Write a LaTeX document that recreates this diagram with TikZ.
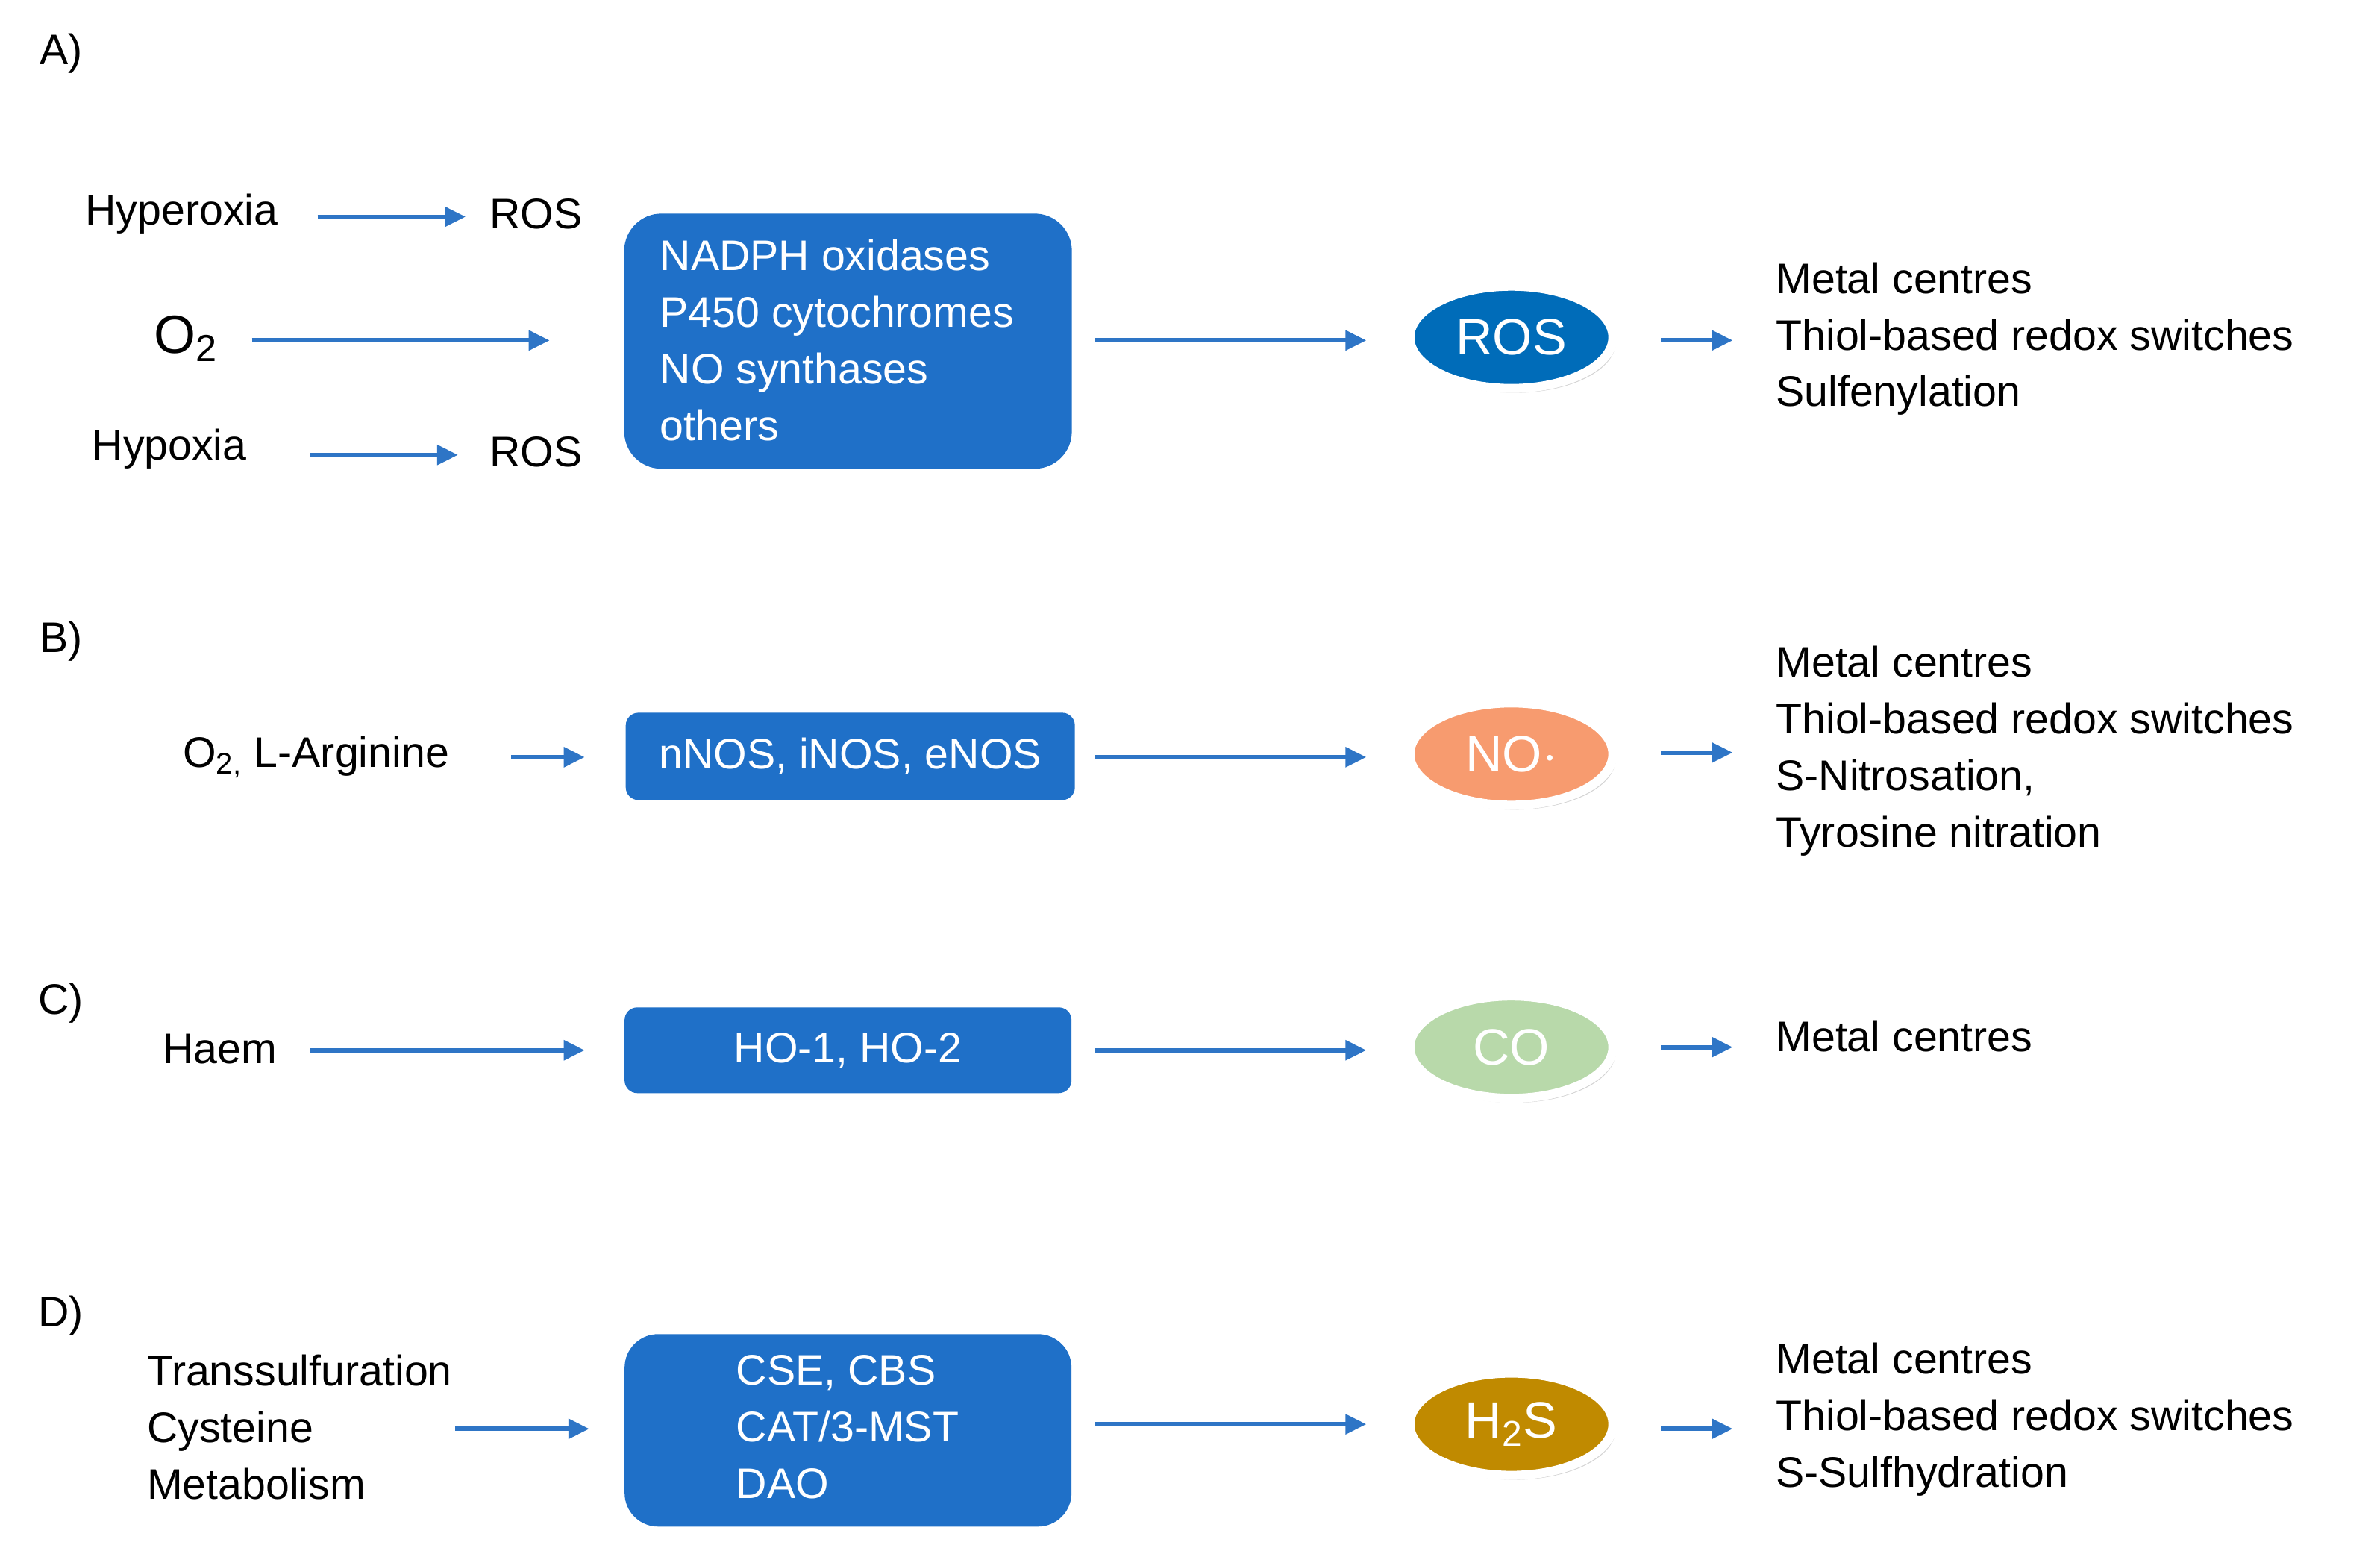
\documentclass[tikz,border=0pt]{standalone}
\usepackage{fontspec}
\setmainfont{Liberation Sans}
\usetikzlibrary{arrows.meta,shadows}
\definecolor{boxblue}{RGB}{31,112,200}
\definecolor{arrblue}{RGB}{46,117,198}
\definecolor{rosblue}{RGB}{0,108,185}
\definecolor{noorange}{RGB}{247,155,111}
\definecolor{cogreen}{RGB}{184,217,170}
\definecolor{hsgold}{RGB}{192,138,0}
\begin{document}
\begin{tikzpicture}[x=0.02046cm,y=-0.02046cm]
\tikzstyle{txt} = [inner sep=0pt,font=\fontsize{16.3}{21.6}\selectfont,align=left]
\tikzstyle{panel} = [inner sep=0pt,font=\fontsize{16.3}{20}\selectfont]
\tikzstyle{enz} = [fill=boxblue,text=white,inner sep=0pt,font=\fontsize{16.3}{21.6}\selectfont]
\tikzstyle{gas} = [ellipse,fill=#1,draw=white,line width=0.12cm,minimum width=2.72cm,minimum height=1.37cm,
  inner sep=0pt,text=white,font=\fontsize{19.5}{20}\selectfont,drop shadow={opacity=0.35,shadow xshift=0.04cm,shadow yshift=-0.06cm}]
\tikzstyle{arr} = [draw=arrblue,line width=1.7pt,-{Triangle[length=0.28cm,width=0.26cm]}]
\usetikzlibrary{shapes.geometric}
\useasboundingbox (0,0) rectangle (1559,1015.6);

% panel labels
\node[panel] (la) at (40,35) {A)};
\node[panel] (lb) at (40,420) {B)};
\node[panel] (lc) at (40,657) {C)};
\node[panel] (ld) at (40,862) {D)};

% A) ROS
\node[txt] (hyper) at (119,140) {Hyperoxia};
\node[txt] (rosa) at (351,140) {ROS};
\node[txt,font=\fontsize{20.5}{22}\selectfont] (o2) at (122,222) {O\textsubscript{2}};
\node[txt] (hypo) at (111,294) {Hypoxia};
\node[txt] (rosb) at (351,296) {ROS};
\node[enz,rounded corners=0.5cm,minimum width=6cm,minimum height=3.42cm] (boxa) at (555.5,223.5) {};
\node[txt,text=white,anchor=west] (enza) at (432,223) {NADPH oxidases\\P450 cytochromes\\NO synthases\\others};
\node[gas=rosblue] (ros) at (990,221) {ROS};
\node[txt,anchor=west] (tgta) at (1163,222) {Metal centres\\Thiol-based redox switches\\Sulfenylation};
\coordinate (a1s) at (208,142); \coordinate (a1e) at (305,142);
\coordinate (a2s) at (165,223); \coordinate (a2e) at (360,223);
\coordinate (a3s) at (203,298); \coordinate (a3e) at (300,298);
\draw[arr] (a1s) -- (a1e);
\draw[arr] (a2s) -- (a2e);
\draw[arr] (a3s) -- (a3e);
\draw[arr] (717,223) -- (895,223);
\draw[arr] (1088,223) -- (1135,223);

% B) NO
\node[txt] (arg) at (207,496) {O\textsubscript{2,} L-Arginine};
\node[enz,rounded corners=0.17cm,minimum width=6.02cm,minimum height=1.17cm] (boxb) at (557,495.5) {nNOS, iNOS, eNOS};
\node[gas=noorange] (no) at (990,494) {NO$\cdot$};
\node[txt,anchor=west] (tgtb) at (1163,492) {Metal centres\\Thiol-based redox switches\\S-Nitrosation,\\Tyrosine nitration};
\draw[arr] (335,496) -- (383,496);
\draw[arr] (717,496) -- (895,496);
\draw[arr] (1088,493) -- (1135,493);

% C) CO
\node[txt] (haem) at (144,687) {Haem};
\node[enz,rounded corners=0.17cm,minimum width=5.99cm,minimum height=1.15cm] (boxc) at (555.5,688) {HO-1, HO-2};
\node[gas=cogreen] (co) at (990,686) {CO};
\node[txt,anchor=west] (tgtc) at (1163,679) {Metal centres};
\draw[arr] (203,688) -- (383,688);
\draw[arr] (717,688) -- (895,688);
\draw[arr] (1088,686) -- (1135,686);

% D) H2S
\node[txt,anchor=west] (trans) at (96,935) {Transsulfuration\\Cysteine\\Metabolism};
\node[enz,rounded corners=0.45cm,minimum width=5.99cm,minimum height=2.58cm] (boxd) at (555.5,937) {};
\node[txt,text=white,anchor=west] (enzd) at (482,935) {CSE, CBS\\CAT/3-MST\\DAO};
\node[gas=hsgold] (hs) at (990,933) {H\textsubscript{2}S};
\node[txt,anchor=west] (tgtd) at (1163,930) {Metal centres\\Thiol-based redox switches\\S-Sulfhydration};
\draw[arr] (298,936) -- (386,936);
\draw[arr] (717,933) -- (895,933);
\draw[arr] (1088,936) -- (1135,936);
\end{tikzpicture}
\end{document}
